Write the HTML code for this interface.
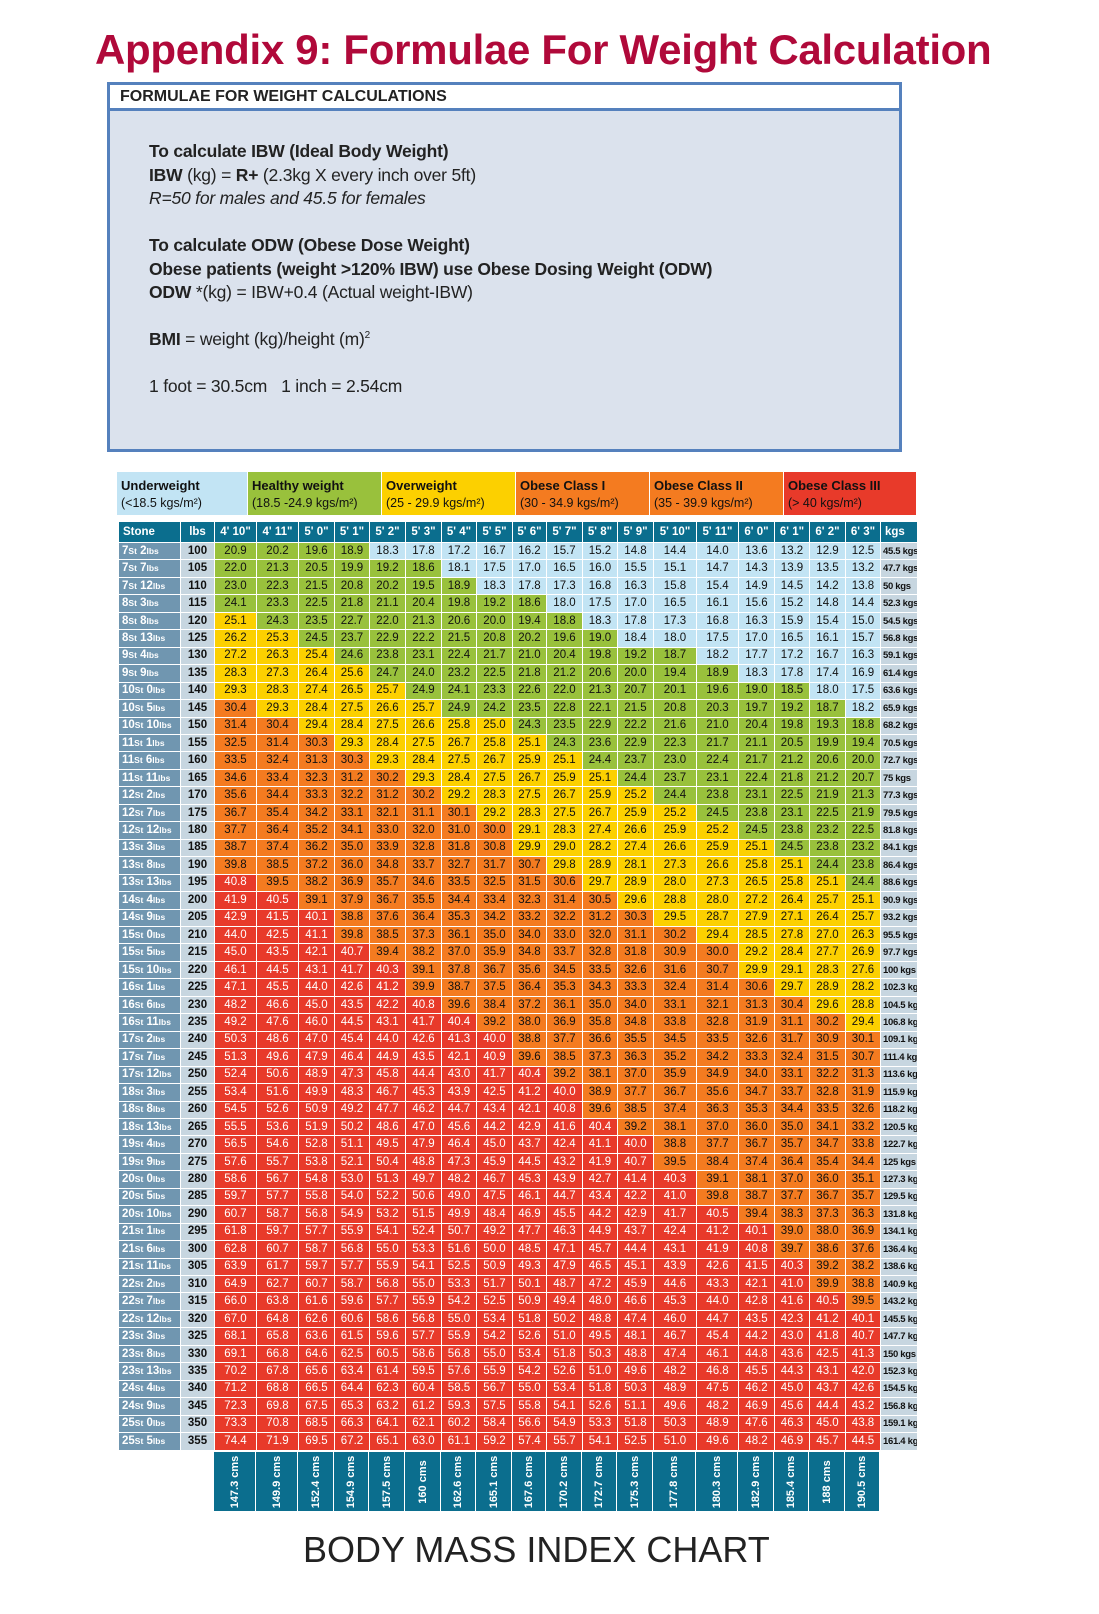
<!DOCTYPE html>
<html><head><meta charset="utf-8">
<style>
*{margin:0;padding:0;box-sizing:border-box}
body{width:1099px;height:1614px;background:#fff;position:relative;font-family:"Liberation Sans",sans-serif;overflow:hidden}
#title{position:absolute;left:95px;width:886px;top:26px;text-align:center;font-size:42px;font-weight:bold;color:#b0093a;letter-spacing:-0.3px;white-space:nowrap}
#box{position:absolute;left:107px;top:82px;width:795px;height:370px;border:3px solid #5581bd;background:#dbe2ed}
#boxh{height:26px;background:#fff;border-bottom:3px solid #5581bd;font-size:16px;font-weight:bold;color:#222;padding:3px 0 0 10px}
.fl{position:absolute;left:39px;font-size:17.5px;color:#222;white-space:nowrap;letter-spacing:-0.2px}
.fl b{font-weight:bold}
#leg{position:absolute;left:117px;top:472px;width:800px;height:43px;display:flex}
#leg div{height:43px;padding:5px 0 0 4px;font-size:12.5px;line-height:17px;color:#111;border-right:1px solid #fff;white-space:nowrap;overflow:hidden}
#leg b{font-size:13px}
table{position:absolute;left:118px;top:521px;border-collapse:collapse;table-layout:fixed;width:799px;font-size:11.5px}
td,th{border:1px solid #fff;text-align:center;height:17.46px;padding:0;white-space:nowrap;overflow:hidden;color:#111;line-height:15px}
thead th{background:#0b6e8e;color:#fff;height:21px;font-weight:bold;font-size:11.5px}
thead th:first-child,thead th:last-child{text-align:left;padding-left:4px}
tbody th{background:#7096b0;color:#fff;text-align:left;padding-left:3px;font-weight:bold;font-size:11.5px}
tbody th i{font-style:normal;font-size:8.5px}
td.l{background:#c7d6e0;font-weight:bold}
td.k{background:#c7d6e0;font-weight:bold;text-align:left;padding-left:2px;font-size:9.5px;letter-spacing:-0.3px}
td.b{background:#c2e4f4}td.g{background:#99c13c}td.y{background:#fcd000}td.o{background:#f47b20}td.r{background:#e83a2a;color:#fff}
#cm{position:absolute;left:214px;top:1452px;display:flex;height:59px}
#cm div{background:#0b6e8e;border-right:1px solid #fff;height:59px;position:relative}
#cm span{position:absolute;left:50%;top:50%;transform:translate(-50%,-50%) rotate(-90deg);color:#fff;font-size:11px;font-weight:bold;white-space:nowrap}
#bt{position:absolute;left:303px;width:452px;top:1529px;text-align:center;font-size:36px;color:#222;white-space:nowrap}
</style></head><body>
<div id="title">Appendix 9: Formulae For Weight Calculation</div>
<div id="box"><div id="boxh">FORMULAE FOR WEIGHT CALCULATIONS</div>
<div class="fl" style="top:56px"><b>To calculate IBW (Ideal Body Weight)</b></div>
<div class="fl" style="top:80px"><b>IBW</b> (kg) = <b>R+</b> (2.3kg X every inch over 5ft)</div>
<div class="fl" style="top:103px"><i>R=50 for males and 45.5 for females</i></div>
<div class="fl" style="top:150px"><b>To calculate ODW (Obese Dose Weight)</b></div>
<div class="fl" style="top:174px"><b>Obese patients (weight &gt;120% IBW) use Obese Dosing Weight (ODW)</b></div>
<div class="fl" style="top:197px"><b>ODW</b> *(kg) = IBW+0.4 (Actual weight-IBW)</div>
<div class="fl" style="top:244px"><b>BMI</b> = weight (kg)/height (m)<sup style="font-size:10px">2</sup></div>
<div class="fl" style="top:291px">1 foot = 30.5cm &nbsp;&nbsp;1 inch = 2.54cm</div>
</div>
<div id="leg">
<div style="width:131px;background:#c2e4f4"><b>Underweight</b><br>(&lt;18.5 kgs/m²)</div>
<div style="width:134px;background:#99c13c"><b>Healthy weight</b><br>(18.5 -24.9 kgs/m²)</div>
<div style="width:134px;background:#fcd000"><b>Overweight</b><br>(25 - 29.9 kgs/m²)</div>
<div style="width:134px;background:#f47b20"><b>Obese Class I</b><br>(30 - 34.9 kgs/m²)</div>
<div style="width:134px;background:#f47b20"><b>Obese Class II</b><br>(35 - 39.9 kgs/m²)</div>
<div style="width:133px;background:#e83a2a"><b>Obese Class III</b><br>(&gt; 40 kgs/m²)</div>
</div>
<table>
<colgroup><col style="width:62px"><col style="width:34px"><col style="width:42px"><col style="width:42px"><col style="width:36px"><col style="width:35px"><col style="width:36px"><col style="width:36px"><col style="width:35px"><col style="width:36px"><col style="width:34px"><col style="width:36px"><col style="width:35px"><col style="width:36px"><col style="width:43px"><col style="width:42px"><col style="width:36px"><col style="width:35px"><col style="width:36px"><col style="width:35px"><col style="width:37px"></colgroup>
<thead><tr><th>Stone</th><th>lbs</th><th>4' 10"</th><th>4' 11"</th><th>5' 0"</th><th>5' 1"</th><th>5' 2"</th><th>5' 3"</th><th>5' 4"</th><th>5' 5"</th><th>5' 6"</th><th>5' 7"</th><th>5' 8"</th><th>5' 9"</th><th>5' 10"</th><th>5' 11"</th><th>6' 0"</th><th>6' 1"</th><th>6' 2"</th><th>6' 3"</th><th>kgs</th></tr></thead>
<tbody>
<tr><th>7<i>St</i> 2<i>lbs</i></th><td class="l">100</td><td>20.9</td><td>20.2</td><td>19.6</td><td>18.9</td><td>18.3</td><td>17.8</td><td>17.2</td><td>16.7</td><td>16.2</td><td>15.7</td><td>15.2</td><td>14.8</td><td>14.4</td><td>14.0</td><td>13.6</td><td>13.2</td><td>12.9</td><td>12.5</td><td class="k">45.5 kgs</td></tr>
<tr><th>7<i>St</i> 7<i>lbs</i></th><td class="l">105</td><td>22.0</td><td>21.3</td><td>20.5</td><td>19.9</td><td>19.2</td><td>18.6</td><td>18.1</td><td>17.5</td><td>17.0</td><td>16.5</td><td>16.0</td><td>15.5</td><td>15.1</td><td>14.7</td><td>14.3</td><td>13.9</td><td>13.5</td><td>13.2</td><td class="k">47.7 kgs</td></tr>
<tr><th>7<i>St</i> 12<i>lbs</i></th><td class="l">110</td><td>23.0</td><td>22.3</td><td>21.5</td><td>20.8</td><td>20.2</td><td>19.5</td><td>18.9</td><td>18.3</td><td>17.8</td><td>17.3</td><td>16.8</td><td>16.3</td><td>15.8</td><td>15.4</td><td>14.9</td><td>14.5</td><td>14.2</td><td>13.8</td><td class="k">50 kgs</td></tr>
<tr><th>8<i>St</i> 3<i>lbs</i></th><td class="l">115</td><td>24.1</td><td>23.3</td><td>22.5</td><td>21.8</td><td>21.1</td><td>20.4</td><td>19.8</td><td>19.2</td><td>18.6</td><td>18.0</td><td>17.5</td><td>17.0</td><td>16.5</td><td>16.1</td><td>15.6</td><td>15.2</td><td>14.8</td><td>14.4</td><td class="k">52.3 kgs</td></tr>
<tr><th>8<i>St</i> 8<i>lbs</i></th><td class="l">120</td><td>25.1</td><td>24.3</td><td>23.5</td><td>22.7</td><td>22.0</td><td>21.3</td><td>20.6</td><td>20.0</td><td>19.4</td><td>18.8</td><td>18.3</td><td>17.8</td><td>17.3</td><td>16.8</td><td>16.3</td><td>15.9</td><td>15.4</td><td>15.0</td><td class="k">54.5 kgs</td></tr>
<tr><th>8<i>St</i> 13<i>lbs</i></th><td class="l">125</td><td>26.2</td><td>25.3</td><td>24.5</td><td>23.7</td><td>22.9</td><td>22.2</td><td>21.5</td><td>20.8</td><td>20.2</td><td>19.6</td><td>19.0</td><td>18.4</td><td>18.0</td><td>17.5</td><td>17.0</td><td>16.5</td><td>16.1</td><td>15.7</td><td class="k">56.8 kgs</td></tr>
<tr><th>9<i>St</i> 4<i>lbs</i></th><td class="l">130</td><td>27.2</td><td>26.3</td><td>25.4</td><td>24.6</td><td>23.8</td><td>23.1</td><td>22.4</td><td>21.7</td><td>21.0</td><td>20.4</td><td>19.8</td><td>19.2</td><td>18.7</td><td>18.2</td><td>17.7</td><td>17.2</td><td>16.7</td><td>16.3</td><td class="k">59.1 kgs</td></tr>
<tr><th>9<i>St</i> 9<i>lbs</i></th><td class="l">135</td><td>28.3</td><td>27.3</td><td>26.4</td><td>25.6</td><td>24.7</td><td>24.0</td><td>23.2</td><td>22.5</td><td>21.8</td><td>21.2</td><td>20.6</td><td>20.0</td><td>19.4</td><td>18.9</td><td>18.3</td><td>17.8</td><td>17.4</td><td>16.9</td><td class="k">61.4 kgs</td></tr>
<tr><th>10<i>St</i> 0<i>lbs</i></th><td class="l">140</td><td>29.3</td><td>28.3</td><td>27.4</td><td>26.5</td><td>25.7</td><td>24.9</td><td>24.1</td><td>23.3</td><td>22.6</td><td>22.0</td><td>21.3</td><td>20.7</td><td>20.1</td><td>19.6</td><td>19.0</td><td>18.5</td><td>18.0</td><td>17.5</td><td class="k">63.6 kgs</td></tr>
<tr><th>10<i>St</i> 5<i>lbs</i></th><td class="l">145</td><td>30.4</td><td>29.3</td><td>28.4</td><td>27.5</td><td>26.6</td><td>25.7</td><td>24.9</td><td>24.2</td><td>23.5</td><td>22.8</td><td>22.1</td><td>21.5</td><td>20.8</td><td>20.3</td><td>19.7</td><td>19.2</td><td>18.7</td><td>18.2</td><td class="k">65.9 kgs</td></tr>
<tr><th>10<i>St</i> 10<i>lbs</i></th><td class="l">150</td><td>31.4</td><td>30.4</td><td>29.4</td><td>28.4</td><td>27.5</td><td>26.6</td><td>25.8</td><td>25.0</td><td>24.3</td><td>23.5</td><td>22.9</td><td>22.2</td><td>21.6</td><td>21.0</td><td>20.4</td><td>19.8</td><td>19.3</td><td>18.8</td><td class="k">68.2 kgs</td></tr>
<tr><th>11<i>St</i> 1<i>lbs</i></th><td class="l">155</td><td>32.5</td><td>31.4</td><td>30.3</td><td>29.3</td><td>28.4</td><td>27.5</td><td>26.7</td><td>25.8</td><td>25.1</td><td>24.3</td><td>23.6</td><td>22.9</td><td>22.3</td><td>21.7</td><td>21.1</td><td>20.5</td><td>19.9</td><td>19.4</td><td class="k">70.5 kgs</td></tr>
<tr><th>11<i>St</i> 6<i>lbs</i></th><td class="l">160</td><td>33.5</td><td>32.4</td><td>31.3</td><td>30.3</td><td>29.3</td><td>28.4</td><td>27.5</td><td>26.7</td><td>25.9</td><td>25.1</td><td>24.4</td><td>23.7</td><td>23.0</td><td>22.4</td><td>21.7</td><td>21.2</td><td>20.6</td><td>20.0</td><td class="k">72.7 kgs</td></tr>
<tr><th>11<i>St</i> 11<i>lbs</i></th><td class="l">165</td><td>34.6</td><td>33.4</td><td>32.3</td><td>31.2</td><td>30.2</td><td>29.3</td><td>28.4</td><td>27.5</td><td>26.7</td><td>25.9</td><td>25.1</td><td>24.4</td><td>23.7</td><td>23.1</td><td>22.4</td><td>21.8</td><td>21.2</td><td>20.7</td><td class="k">75 kgs</td></tr>
<tr><th>12<i>St</i> 2<i>lbs</i></th><td class="l">170</td><td>35.6</td><td>34.4</td><td>33.3</td><td>32.2</td><td>31.2</td><td>30.2</td><td>29.2</td><td>28.3</td><td>27.5</td><td>26.7</td><td>25.9</td><td>25.2</td><td>24.4</td><td>23.8</td><td>23.1</td><td>22.5</td><td>21.9</td><td>21.3</td><td class="k">77.3 kgs</td></tr>
<tr><th>12<i>St</i> 7<i>lbs</i></th><td class="l">175</td><td>36.7</td><td>35.4</td><td>34.2</td><td>33.1</td><td>32.1</td><td>31.1</td><td>30.1</td><td>29.2</td><td>28.3</td><td>27.5</td><td>26.7</td><td>25.9</td><td>25.2</td><td>24.5</td><td>23.8</td><td>23.1</td><td>22.5</td><td>21.9</td><td class="k">79.5 kgs</td></tr>
<tr><th>12<i>St</i> 12<i>lbs</i></th><td class="l">180</td><td>37.7</td><td>36.4</td><td>35.2</td><td>34.1</td><td>33.0</td><td>32.0</td><td>31.0</td><td>30.0</td><td>29.1</td><td>28.3</td><td>27.4</td><td>26.6</td><td>25.9</td><td>25.2</td><td>24.5</td><td>23.8</td><td>23.2</td><td>22.5</td><td class="k">81.8 kgs</td></tr>
<tr><th>13<i>St</i> 3<i>lbs</i></th><td class="l">185</td><td>38.7</td><td>37.4</td><td>36.2</td><td>35.0</td><td>33.9</td><td>32.8</td><td>31.8</td><td>30.8</td><td>29.9</td><td>29.0</td><td>28.2</td><td>27.4</td><td>26.6</td><td>25.9</td><td>25.1</td><td>24.5</td><td>23.8</td><td>23.2</td><td class="k">84.1 kgs</td></tr>
<tr><th>13<i>St</i> 8<i>lbs</i></th><td class="l">190</td><td>39.8</td><td>38.5</td><td>37.2</td><td>36.0</td><td>34.8</td><td>33.7</td><td>32.7</td><td>31.7</td><td>30.7</td><td>29.8</td><td>28.9</td><td>28.1</td><td>27.3</td><td>26.6</td><td>25.8</td><td>25.1</td><td>24.4</td><td>23.8</td><td class="k">86.4 kgs</td></tr>
<tr><th>13<i>St</i> 13<i>lbs</i></th><td class="l">195</td><td>40.8</td><td>39.5</td><td>38.2</td><td>36.9</td><td>35.7</td><td>34.6</td><td>33.5</td><td>32.5</td><td>31.5</td><td>30.6</td><td>29.7</td><td>28.9</td><td>28.0</td><td>27.3</td><td>26.5</td><td>25.8</td><td>25.1</td><td>24.4</td><td class="k">88.6 kgs</td></tr>
<tr><th>14<i>St</i> 4<i>lbs</i></th><td class="l">200</td><td>41.9</td><td>40.5</td><td>39.1</td><td>37.9</td><td>36.7</td><td>35.5</td><td>34.4</td><td>33.4</td><td>32.3</td><td>31.4</td><td>30.5</td><td>29.6</td><td>28.8</td><td>28.0</td><td>27.2</td><td>26.4</td><td>25.7</td><td>25.1</td><td class="k">90.9 kgs</td></tr>
<tr><th>14<i>St</i> 9<i>lbs</i></th><td class="l">205</td><td>42.9</td><td>41.5</td><td>40.1</td><td>38.8</td><td>37.6</td><td>36.4</td><td>35.3</td><td>34.2</td><td>33.2</td><td>32.2</td><td>31.2</td><td>30.3</td><td>29.5</td><td>28.7</td><td>27.9</td><td>27.1</td><td>26.4</td><td>25.7</td><td class="k">93.2 kgs</td></tr>
<tr><th>15<i>St</i> 0<i>lbs</i></th><td class="l">210</td><td>44.0</td><td>42.5</td><td>41.1</td><td>39.8</td><td>38.5</td><td>37.3</td><td>36.1</td><td>35.0</td><td>34.0</td><td>33.0</td><td>32.0</td><td>31.1</td><td>30.2</td><td>29.4</td><td>28.5</td><td>27.8</td><td>27.0</td><td>26.3</td><td class="k">95.5 kgs</td></tr>
<tr><th>15<i>St</i> 5<i>lbs</i></th><td class="l">215</td><td>45.0</td><td>43.5</td><td>42.1</td><td>40.7</td><td>39.4</td><td>38.2</td><td>37.0</td><td>35.9</td><td>34.8</td><td>33.7</td><td>32.8</td><td>31.8</td><td>30.9</td><td>30.0</td><td>29.2</td><td>28.4</td><td>27.7</td><td>26.9</td><td class="k">97.7 kgs</td></tr>
<tr><th>15<i>St</i> 10<i>lbs</i></th><td class="l">220</td><td>46.1</td><td>44.5</td><td>43.1</td><td>41.7</td><td>40.3</td><td>39.1</td><td>37.8</td><td>36.7</td><td>35.6</td><td>34.5</td><td>33.5</td><td>32.6</td><td>31.6</td><td>30.7</td><td>29.9</td><td>29.1</td><td>28.3</td><td>27.6</td><td class="k">100 kgs</td></tr>
<tr><th>16<i>St</i> 1<i>lbs</i></th><td class="l">225</td><td>47.1</td><td>45.5</td><td>44.0</td><td>42.6</td><td>41.2</td><td>39.9</td><td>38.7</td><td>37.5</td><td>36.4</td><td>35.3</td><td>34.3</td><td>33.3</td><td>32.4</td><td>31.4</td><td>30.6</td><td>29.7</td><td>28.9</td><td>28.2</td><td class="k">102.3 kgs</td></tr>
<tr><th>16<i>St</i> 6<i>lbs</i></th><td class="l">230</td><td>48.2</td><td>46.6</td><td>45.0</td><td>43.5</td><td>42.2</td><td>40.8</td><td>39.6</td><td>38.4</td><td>37.2</td><td>36.1</td><td>35.0</td><td>34.0</td><td>33.1</td><td>32.1</td><td>31.3</td><td>30.4</td><td>29.6</td><td>28.8</td><td class="k">104.5 kgs</td></tr>
<tr><th>16<i>St</i> 11<i>lbs</i></th><td class="l">235</td><td>49.2</td><td>47.6</td><td>46.0</td><td>44.5</td><td>43.1</td><td>41.7</td><td>40.4</td><td>39.2</td><td>38.0</td><td>36.9</td><td>35.8</td><td>34.8</td><td>33.8</td><td>32.8</td><td>31.9</td><td>31.1</td><td>30.2</td><td>29.4</td><td class="k">106.8 kgs</td></tr>
<tr><th>17<i>St</i> 2<i>lbs</i></th><td class="l">240</td><td>50.3</td><td>48.6</td><td>47.0</td><td>45.4</td><td>44.0</td><td>42.6</td><td>41.3</td><td>40.0</td><td>38.8</td><td>37.7</td><td>36.6</td><td>35.5</td><td>34.5</td><td>33.5</td><td>32.6</td><td>31.7</td><td>30.9</td><td>30.1</td><td class="k">109.1 kgs</td></tr>
<tr><th>17<i>St</i> 7<i>lbs</i></th><td class="l">245</td><td>51.3</td><td>49.6</td><td>47.9</td><td>46.4</td><td>44.9</td><td>43.5</td><td>42.1</td><td>40.9</td><td>39.6</td><td>38.5</td><td>37.3</td><td>36.3</td><td>35.2</td><td>34.2</td><td>33.3</td><td>32.4</td><td>31.5</td><td>30.7</td><td class="k">111.4 kgs</td></tr>
<tr><th>17<i>St</i> 12<i>lbs</i></th><td class="l">250</td><td>52.4</td><td>50.6</td><td>48.9</td><td>47.3</td><td>45.8</td><td>44.4</td><td>43.0</td><td>41.7</td><td>40.4</td><td>39.2</td><td>38.1</td><td>37.0</td><td>35.9</td><td>34.9</td><td>34.0</td><td>33.1</td><td>32.2</td><td>31.3</td><td class="k">113.6 kgs</td></tr>
<tr><th>18<i>St</i> 3<i>lbs</i></th><td class="l">255</td><td>53.4</td><td>51.6</td><td>49.9</td><td>48.3</td><td>46.7</td><td>45.3</td><td>43.9</td><td>42.5</td><td>41.2</td><td>40.0</td><td>38.9</td><td>37.7</td><td>36.7</td><td>35.6</td><td>34.7</td><td>33.7</td><td>32.8</td><td>31.9</td><td class="k">115.9 kgs</td></tr>
<tr><th>18<i>St</i> 8<i>lbs</i></th><td class="l">260</td><td>54.5</td><td>52.6</td><td>50.9</td><td>49.2</td><td>47.7</td><td>46.2</td><td>44.7</td><td>43.4</td><td>42.1</td><td>40.8</td><td>39.6</td><td>38.5</td><td>37.4</td><td>36.3</td><td>35.3</td><td>34.4</td><td>33.5</td><td>32.6</td><td class="k">118.2 kgs</td></tr>
<tr><th>18<i>St</i> 13<i>lbs</i></th><td class="l">265</td><td>55.5</td><td>53.6</td><td>51.9</td><td>50.2</td><td>48.6</td><td>47.0</td><td>45.6</td><td>44.2</td><td>42.9</td><td>41.6</td><td>40.4</td><td>39.2</td><td>38.1</td><td>37.0</td><td>36.0</td><td>35.0</td><td>34.1</td><td>33.2</td><td class="k">120.5 kgs</td></tr>
<tr><th>19<i>St</i> 4<i>lbs</i></th><td class="l">270</td><td>56.5</td><td>54.6</td><td>52.8</td><td>51.1</td><td>49.5</td><td>47.9</td><td>46.4</td><td>45.0</td><td>43.7</td><td>42.4</td><td>41.1</td><td>40.0</td><td>38.8</td><td>37.7</td><td>36.7</td><td>35.7</td><td>34.7</td><td>33.8</td><td class="k">122.7 kgs</td></tr>
<tr><th>19<i>St</i> 9<i>lbs</i></th><td class="l">275</td><td>57.6</td><td>55.7</td><td>53.8</td><td>52.1</td><td>50.4</td><td>48.8</td><td>47.3</td><td>45.9</td><td>44.5</td><td>43.2</td><td>41.9</td><td>40.7</td><td>39.5</td><td>38.4</td><td>37.4</td><td>36.4</td><td>35.4</td><td>34.4</td><td class="k">125 kgs</td></tr>
<tr><th>20<i>St</i> 0<i>lbs</i></th><td class="l">280</td><td>58.6</td><td>56.7</td><td>54.8</td><td>53.0</td><td>51.3</td><td>49.7</td><td>48.2</td><td>46.7</td><td>45.3</td><td>43.9</td><td>42.7</td><td>41.4</td><td>40.3</td><td>39.1</td><td>38.1</td><td>37.0</td><td>36.0</td><td>35.1</td><td class="k">127.3 kgs</td></tr>
<tr><th>20<i>St</i> 5<i>lbs</i></th><td class="l">285</td><td>59.7</td><td>57.7</td><td>55.8</td><td>54.0</td><td>52.2</td><td>50.6</td><td>49.0</td><td>47.5</td><td>46.1</td><td>44.7</td><td>43.4</td><td>42.2</td><td>41.0</td><td>39.8</td><td>38.7</td><td>37.7</td><td>36.7</td><td>35.7</td><td class="k">129.5 kgs</td></tr>
<tr><th>20<i>St</i> 10<i>lbs</i></th><td class="l">290</td><td>60.7</td><td>58.7</td><td>56.8</td><td>54.9</td><td>53.2</td><td>51.5</td><td>49.9</td><td>48.4</td><td>46.9</td><td>45.5</td><td>44.2</td><td>42.9</td><td>41.7</td><td>40.5</td><td>39.4</td><td>38.3</td><td>37.3</td><td>36.3</td><td class="k">131.8 kgs</td></tr>
<tr><th>21<i>St</i> 1<i>lbs</i></th><td class="l">295</td><td>61.8</td><td>59.7</td><td>57.7</td><td>55.9</td><td>54.1</td><td>52.4</td><td>50.7</td><td>49.2</td><td>47.7</td><td>46.3</td><td>44.9</td><td>43.7</td><td>42.4</td><td>41.2</td><td>40.1</td><td>39.0</td><td>38.0</td><td>36.9</td><td class="k">134.1 kgs</td></tr>
<tr><th>21<i>St</i> 6<i>lbs</i></th><td class="l">300</td><td>62.8</td><td>60.7</td><td>58.7</td><td>56.8</td><td>55.0</td><td>53.3</td><td>51.6</td><td>50.0</td><td>48.5</td><td>47.1</td><td>45.7</td><td>44.4</td><td>43.1</td><td>41.9</td><td>40.8</td><td>39.7</td><td>38.6</td><td>37.6</td><td class="k">136.4 kgs</td></tr>
<tr><th>21<i>St</i> 11<i>lbs</i></th><td class="l">305</td><td>63.9</td><td>61.7</td><td>59.7</td><td>57.7</td><td>55.9</td><td>54.1</td><td>52.5</td><td>50.9</td><td>49.3</td><td>47.9</td><td>46.5</td><td>45.1</td><td>43.9</td><td>42.6</td><td>41.5</td><td>40.3</td><td>39.2</td><td>38.2</td><td class="k">138.6 kgs</td></tr>
<tr><th>22<i>St</i> 2<i>lbs</i></th><td class="l">310</td><td>64.9</td><td>62.7</td><td>60.7</td><td>58.7</td><td>56.8</td><td>55.0</td><td>53.3</td><td>51.7</td><td>50.1</td><td>48.7</td><td>47.2</td><td>45.9</td><td>44.6</td><td>43.3</td><td>42.1</td><td>41.0</td><td>39.9</td><td>38.8</td><td class="k">140.9 kgs</td></tr>
<tr><th>22<i>St</i> 7<i>lbs</i></th><td class="l">315</td><td>66.0</td><td>63.8</td><td>61.6</td><td>59.6</td><td>57.7</td><td>55.9</td><td>54.2</td><td>52.5</td><td>50.9</td><td>49.4</td><td>48.0</td><td>46.6</td><td>45.3</td><td>44.0</td><td>42.8</td><td>41.6</td><td>40.5</td><td>39.5</td><td class="k">143.2 kgs</td></tr>
<tr><th>22<i>St</i> 12<i>lbs</i></th><td class="l">320</td><td>67.0</td><td>64.8</td><td>62.6</td><td>60.6</td><td>58.6</td><td>56.8</td><td>55.0</td><td>53.4</td><td>51.8</td><td>50.2</td><td>48.8</td><td>47.4</td><td>46.0</td><td>44.7</td><td>43.5</td><td>42.3</td><td>41.2</td><td>40.1</td><td class="k">145.5 kgs</td></tr>
<tr><th>23<i>St</i> 3<i>lbs</i></th><td class="l">325</td><td>68.1</td><td>65.8</td><td>63.6</td><td>61.5</td><td>59.6</td><td>57.7</td><td>55.9</td><td>54.2</td><td>52.6</td><td>51.0</td><td>49.5</td><td>48.1</td><td>46.7</td><td>45.4</td><td>44.2</td><td>43.0</td><td>41.8</td><td>40.7</td><td class="k">147.7 kgs</td></tr>
<tr><th>23<i>St</i> 8<i>lbs</i></th><td class="l">330</td><td>69.1</td><td>66.8</td><td>64.6</td><td>62.5</td><td>60.5</td><td>58.6</td><td>56.8</td><td>55.0</td><td>53.4</td><td>51.8</td><td>50.3</td><td>48.8</td><td>47.4</td><td>46.1</td><td>44.8</td><td>43.6</td><td>42.5</td><td>41.3</td><td class="k">150 kgs</td></tr>
<tr><th>23<i>St</i> 13<i>lbs</i></th><td class="l">335</td><td>70.2</td><td>67.8</td><td>65.6</td><td>63.4</td><td>61.4</td><td>59.5</td><td>57.6</td><td>55.9</td><td>54.2</td><td>52.6</td><td>51.0</td><td>49.6</td><td>48.2</td><td>46.8</td><td>45.5</td><td>44.3</td><td>43.1</td><td>42.0</td><td class="k">152.3 kgs</td></tr>
<tr><th>24<i>St</i> 4<i>lbs</i></th><td class="l">340</td><td>71.2</td><td>68.8</td><td>66.5</td><td>64.4</td><td>62.3</td><td>60.4</td><td>58.5</td><td>56.7</td><td>55.0</td><td>53.4</td><td>51.8</td><td>50.3</td><td>48.9</td><td>47.5</td><td>46.2</td><td>45.0</td><td>43.7</td><td>42.6</td><td class="k">154.5 kgs</td></tr>
<tr><th>24<i>St</i> 9<i>lbs</i></th><td class="l">345</td><td>72.3</td><td>69.8</td><td>67.5</td><td>65.3</td><td>63.2</td><td>61.2</td><td>59.3</td><td>57.5</td><td>55.8</td><td>54.1</td><td>52.6</td><td>51.1</td><td>49.6</td><td>48.2</td><td>46.9</td><td>45.6</td><td>44.4</td><td>43.2</td><td class="k">156.8 kgs</td></tr>
<tr><th>25<i>St</i> 0<i>lbs</i></th><td class="l">350</td><td>73.3</td><td>70.8</td><td>68.5</td><td>66.3</td><td>64.1</td><td>62.1</td><td>60.2</td><td>58.4</td><td>56.6</td><td>54.9</td><td>53.3</td><td>51.8</td><td>50.3</td><td>48.9</td><td>47.6</td><td>46.3</td><td>45.0</td><td>43.8</td><td class="k">159.1 kgs</td></tr>
<tr><th>25<i>St</i> 5<i>lbs</i></th><td class="l">355</td><td>74.4</td><td>71.9</td><td>69.5</td><td>67.2</td><td>65.1</td><td>63.0</td><td>61.1</td><td>59.2</td><td>57.4</td><td>55.7</td><td>54.1</td><td>52.5</td><td>51.0</td><td>49.6</td><td>48.2</td><td>46.9</td><td>45.7</td><td>44.5</td><td class="k">161.4 kgs</td></tr>
</tbody></table>
<div id="cm">
<div style="width:42px"><span>147.3 cms</span></div><div style="width:42px"><span>149.9 cms</span></div><div style="width:36px"><span>152.4 cms</span></div><div style="width:35px"><span>154.9 cms</span></div><div style="width:36px"><span>157.5 cms</span></div><div style="width:36px"><span>160 cms</span></div><div style="width:35px"><span>162.6 cms</span></div><div style="width:36px"><span>165.1 cms</span></div><div style="width:34px"><span>167.6 cms</span></div><div style="width:36px"><span>170.2 cms</span></div><div style="width:35px"><span>172.7 cms</span></div><div style="width:36px"><span>175.3 cms</span></div><div style="width:43px"><span>177.8 cms</span></div><div style="width:42px"><span>180.3 cms</span></div><div style="width:36px"><span>182.9 cms</span></div><div style="width:35px"><span>185.4 cms</span></div><div style="width:36px"><span>188 cms</span></div><div style="width:35px"><span>190.5 cms</span></div>
</div>
<div id="bt">BODY MASS INDEX CHART</div>
<script>
document.querySelectorAll('tbody td').forEach(function(t){
 if(t.className)return;
 var v=parseFloat(t.textContent);
 t.className=v<18.5?'b':v<25?'g':v<30?'y':v<40?'o':'r';
});
</script>
</body></html>
